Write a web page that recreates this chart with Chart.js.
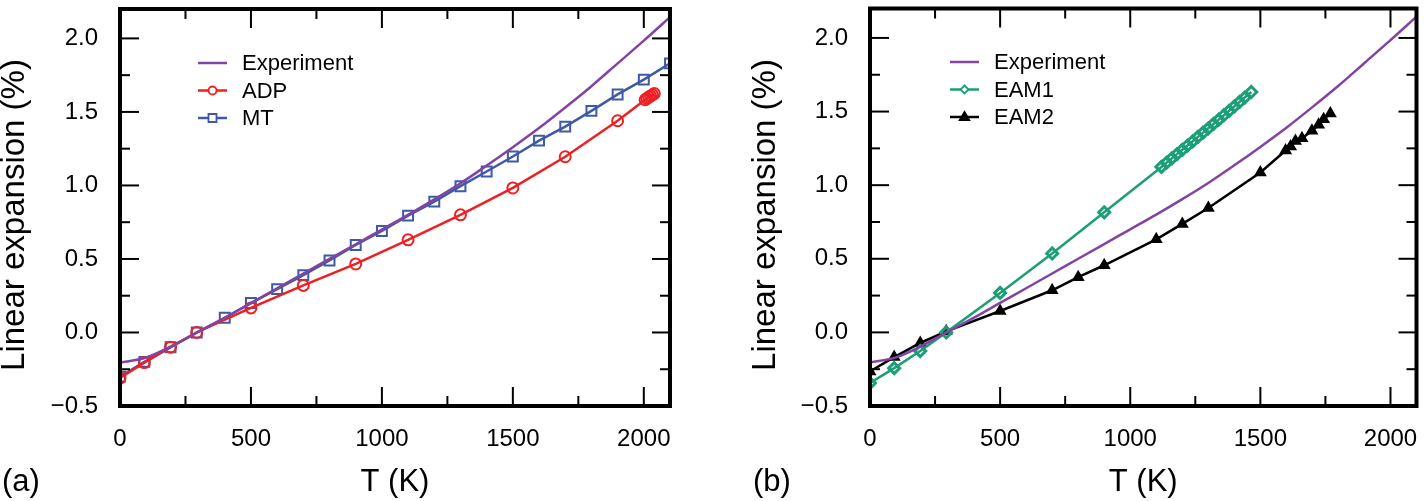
<!DOCTYPE html>
<html><head><meta charset="utf-8">
<script src="https://cdn.jsdelivr.net/npm/chart.js@4.4.1/dist/chart.umd.min.js"></script>
<style>
html,body{margin:0;padding:0;background:#fff;overflow:hidden}
#wrap{position:relative;width:1425px;height:501px;background:#fff}
#c1{position:absolute;left:0;top:0}
#c2{position:absolute;left:712px;top:0}
</style></head><body>
<div id="wrap"><canvas id="c1" width="712" height="501"></canvas><canvas id="c2" width="713" height="501"></canvas></div>
<script>
// ---- data ----
const expT   = [0,100,200,300,400,500,600,700,800,900,1000,1100,1200,1300,1400,1500,1600,1700,1800,1900,2000,2100];
const expVal = [-0.205,-0.17,-0.09,0.005,0.10,0.20,0.30,0.40,0.50,0.60,0.70,0.80,0.905,1.015,1.135,1.26,1.39,1.53,1.675,1.83,1.985,2.145];

const adpT   = [0,93,193,293,500,700,900,1100,1300,1500,1700,1900,2005,2012,2019,2026,2033,2040];
const adpVal = [-0.31,-0.205,-0.10,0.0,0.167,0.32,0.466,0.63,0.80,0.983,1.195,1.44,1.583,1.592,1.601,1.609,1.617,1.625];

const mtT    = [0,93,193,293,400,500,600,700,800,900,1000,1100,1200,1300,1400,1500,1600,1700,1800,1900,2000,2100];
const mtVal  = [-0.30,-0.20,-0.10,0.0,0.10,0.20,0.295,0.39,0.49,0.595,0.69,0.795,0.89,0.995,1.095,1.197,1.305,1.40,1.507,1.619,1.72,1.83];

const eam1T   = [0,93,193,293,500,700,900,1120,1140,1160,1180,1200,1220,1240,1260,1280,1300,1320,1340,1360,1380,1400,1420,1440,1465];
const eam1Val = [-0.344,-0.243,-0.127,0.0,0.268,0.536,0.816,1.124,1.153,1.182,1.211,1.240,1.269,1.298,1.328,1.357,1.386,1.416,1.445,1.475,1.505,1.535,1.565,1.595,1.633];

const eam2T   = [0,93,193,293,500,700,800,900,1100,1200,1300,1500,1597,1616,1635,1660,1698,1724,1743,1769];
const eam2Val = [-0.266,-0.168,-0.072,0.007,0.145,0.286,0.375,0.456,0.632,0.737,0.845,1.086,1.235,1.262,1.30,1.318,1.37,1.41,1.448,1.486];

const xMajor = [0,500,1000,1500,2000];
const xMinor = [250,750,1250,1750];
const yMajor = [-0.5,0,0.5,1.0,1.5,2.0];
const yMinor = [-0.25,0.25,0.75,1.25,1.75];

const xTitle = 'T (K)';
const yTitle = 'Linear expansion (%)';

// ---- styling ----
const FONT = '"Liberation Sans", Arial, Helvetica, sans-serif';
const C_EXP = '#8244A2', C_ADP = '#ED2024', C_MT = '#3D59A8', C_E1 = '#1C9F78', C_E2 = '#000000';

function pts(xs, ys){ return xs.map((x,i)=>({x:x, y:ys[i]})); }

function fmtY(v){ const s = Math.abs(v).toFixed(1); return v < 0 ? '\u2212' + s : s; }

function drawMarker(ctx, style, x, y, r, color, fill, lw){
  ctx.save();
  ctx.strokeStyle = color; ctx.fillStyle = fill; ctx.lineWidth = lw;
  ctx.beginPath();
  if (style === 'circle') { ctx.arc(x,y,r,0,Math.PI*2); }
  else if (style === 'rect') { ctx.rect(x-r,y-r,2*r,2*r); }
  else if (style === 'rectRot') { ctx.moveTo(x,y-r); ctx.lineTo(x+r,y); ctx.lineTo(x,y+r); ctx.lineTo(x-r,y); ctx.closePath(); }
  else if (style === 'triangle') { ctx.moveTo(x,y-r); ctx.lineTo(x+r*0.95,y+r*0.6); ctx.lineTo(x-r*0.95,y+r*0.6); ctx.closePath(); }
  if (fill) ctx.fill();
  ctx.stroke();
  ctx.restore();
}

const decor = {
  id: 'decor',
  afterDatasetsDraw(chart, args, o) {
    const {ctx, chartArea:{left,right,top,bottom}, scales:{x,y}} = chart;
    ctx.save();
    ctx.strokeStyle = '#000'; ctx.lineWidth = 2;
    const seg = (a,b,c,d)=>{ ctx.beginPath(); ctx.moveTo(a,b); ctx.lineTo(c,d); ctx.stroke(); };
    xMajor.forEach(v=>{ const p = x.getPixelForValue(v); seg(p,bottom,p,bottom-19); seg(p,top,p,top+19); });
    xMinor.forEach(v=>{ const p = x.getPixelForValue(v); seg(p,bottom,p,bottom-10); seg(p,top,p,top+10); });
    yMajor.forEach(v=>{ const p = y.getPixelForValue(v); seg(left,p,left+19,p); seg(right,p,right-18,p); });
    yMinor.forEach(v=>{ const p = y.getPixelForValue(v); seg(left,p,left+10,p); seg(right,p,right-10,p); });
    ctx.lineWidth = 4;
    ctx.strokeRect(left, top, right-left, bottom-top);
    ctx.restore();
  },
  afterDraw(chart, args, o) {
    const {ctx, chartArea:{left,right}} = chart;
    ctx.save();
    ctx.fillStyle = '#000';
    ctx.font = '31px ' + FONT;
    ctx.textBaseline = 'alphabetic';
    ctx.textAlign = 'center';
    ctx.fillText(xTitle, (left+right)/2, 491);
    ctx.textAlign = 'left';
    ctx.fillText(o.tag, o.tagX, 491);
    ctx.save();
    ctx.font = '33px ' + FONT;
    ctx.translate(o.yTitleX, 215);
    ctx.rotate(-Math.PI/2);
    ctx.textAlign = 'center';
    ctx.fillText(yTitle, 0, 0);
    ctx.restore();
    // legend
    ctx.font = '22px ' + FONT;
    ctx.textBaseline = 'middle';
    ctx.textAlign = 'left';
    chart.data.datasets.forEach((ds, i) => {
      const ly = o.legY + i*27.5;
      ctx.strokeStyle = ds.borderColor; ctx.lineWidth = 2.5;
      ctx.beginPath(); ctx.moveTo(o.legX, ly); ctx.lineTo(o.legX+29, ly); ctx.stroke();
      if (ds.pointRadius > 0) {
        const st = ds.pointStyle;
        const r = st === 'rect' ? 4 : (st === 'triangle' ? 5 : 4);
        drawMarker(ctx, st, o.legX+14.5, ly, r, ds.borderColor, ds.pointBackgroundColor === 'transparent' ? '#fff' : ds.pointBackgroundColor, 1.8);
      }
      ctx.fillStyle = '#000';
      ctx.fillText(ds.label, o.legX+44, ly+1);
    });
    ctx.restore();
  }
};

function makeChart(canvasId, datasets, yAxisWidth, rightPad, opts) {
  return new Chart(document.getElementById(canvasId), {
    type: 'line',
    data: { datasets },
    options: {
      responsive: false,
      animation: false,
      devicePixelRatio: 1,
      layout: { padding: { left: 0, right: rightPad, top: 2, bottom: 0 } },
      plugins: { legend: { display: false }, tooltip: { enabled: false }, decor: opts },
      scales: {
        x: {
          type: 'linear', min: 0, max: 2100,
          grid: { display: false, drawTicks: false }, border: { display: false },
          ticks: { padding: 19, color: '#000', maxRotation: 0, autoSkip: false,
                   font: { family: FONT, size: 24 }, callback: v => String(v) },
          afterBuildTicks(s){ s.ticks = xMajor.map(v => ({ value: v })); },
          afterFit(s){ s.height = 95; s.paddingLeft = 0; s.paddingRight = 0; s.paddingTop = 0; s.paddingBottom = 0; }
        },
        y: {
          type: 'linear', min: -0.5, max: 2.2,
          grid: { display: false, drawTicks: false }, border: { display: false },
          ticks: { padding: 22, color: '#000', autoSkip: false,
                   font: { family: FONT, size: 24 }, callback: v => fmtY(v) },
          afterBuildTicks(s){ s.ticks = yMajor.map(v => ({ value: v })); },
          afterFit(s){ s.width = yAxisWidth; s.paddingLeft = 0; s.paddingRight = 0; s.paddingTop = 0; s.paddingBottom = 0; }
        }
      }
    },
    plugins: [decor]
  });
}

function expDataset(){
  return { label: 'Experiment', data: pts(expT, expVal), borderColor: C_EXP, borderWidth: 2.5,
           pointRadius: 0, cubicInterpolationMode: 'monotone', fill: false };
}

makeChart('c1', [
  expDataset(),
  { label: 'ADP', data: pts(adpT, adpVal), borderColor: C_ADP, borderWidth: 2.5,
    pointStyle: 'circle', pointRadius: 5.5, pointBorderWidth: 2, pointBorderColor: C_ADP, pointBackgroundColor: 'transparent', fill: false },
  { label: 'MT', data: pts(mtT, mtVal), borderColor: C_MT, borderWidth: 2.5,
    pointStyle: 'rect', pointRadius: 7, pointBorderWidth: 2, pointBorderColor: C_MT, pointBackgroundColor: 'transparent', fill: false }
], 120, 42, { tag: '(a)', tagX: 2, yTitleX: 24, legX: 198, legY: 63 });

makeChart('c2', [
  expDataset(),
  { label: 'EAM1', data: pts(eam1T, eam1Val), borderColor: C_E1, borderWidth: 2.5,
    pointStyle: 'rectRot', pointRadius: 5.5, pointBorderWidth: 3, pointBorderColor: C_E1, pointBackgroundColor: 'transparent', fill: false },
  { label: 'EAM2', data: pts(eam2T, eam2Val), borderColor: C_E2, borderWidth: 2.5,
    pointStyle: 'triangle', pointRadius: 6, pointBorderWidth: 1.5, pointBorderColor: C_E2, pointBackgroundColor: C_E2, fill: false }
], 158, 5, { tag: '(b)', tagX: 41, yTitleX: 63, legX: 238, legY: 62 });
</script>
</body></html>
